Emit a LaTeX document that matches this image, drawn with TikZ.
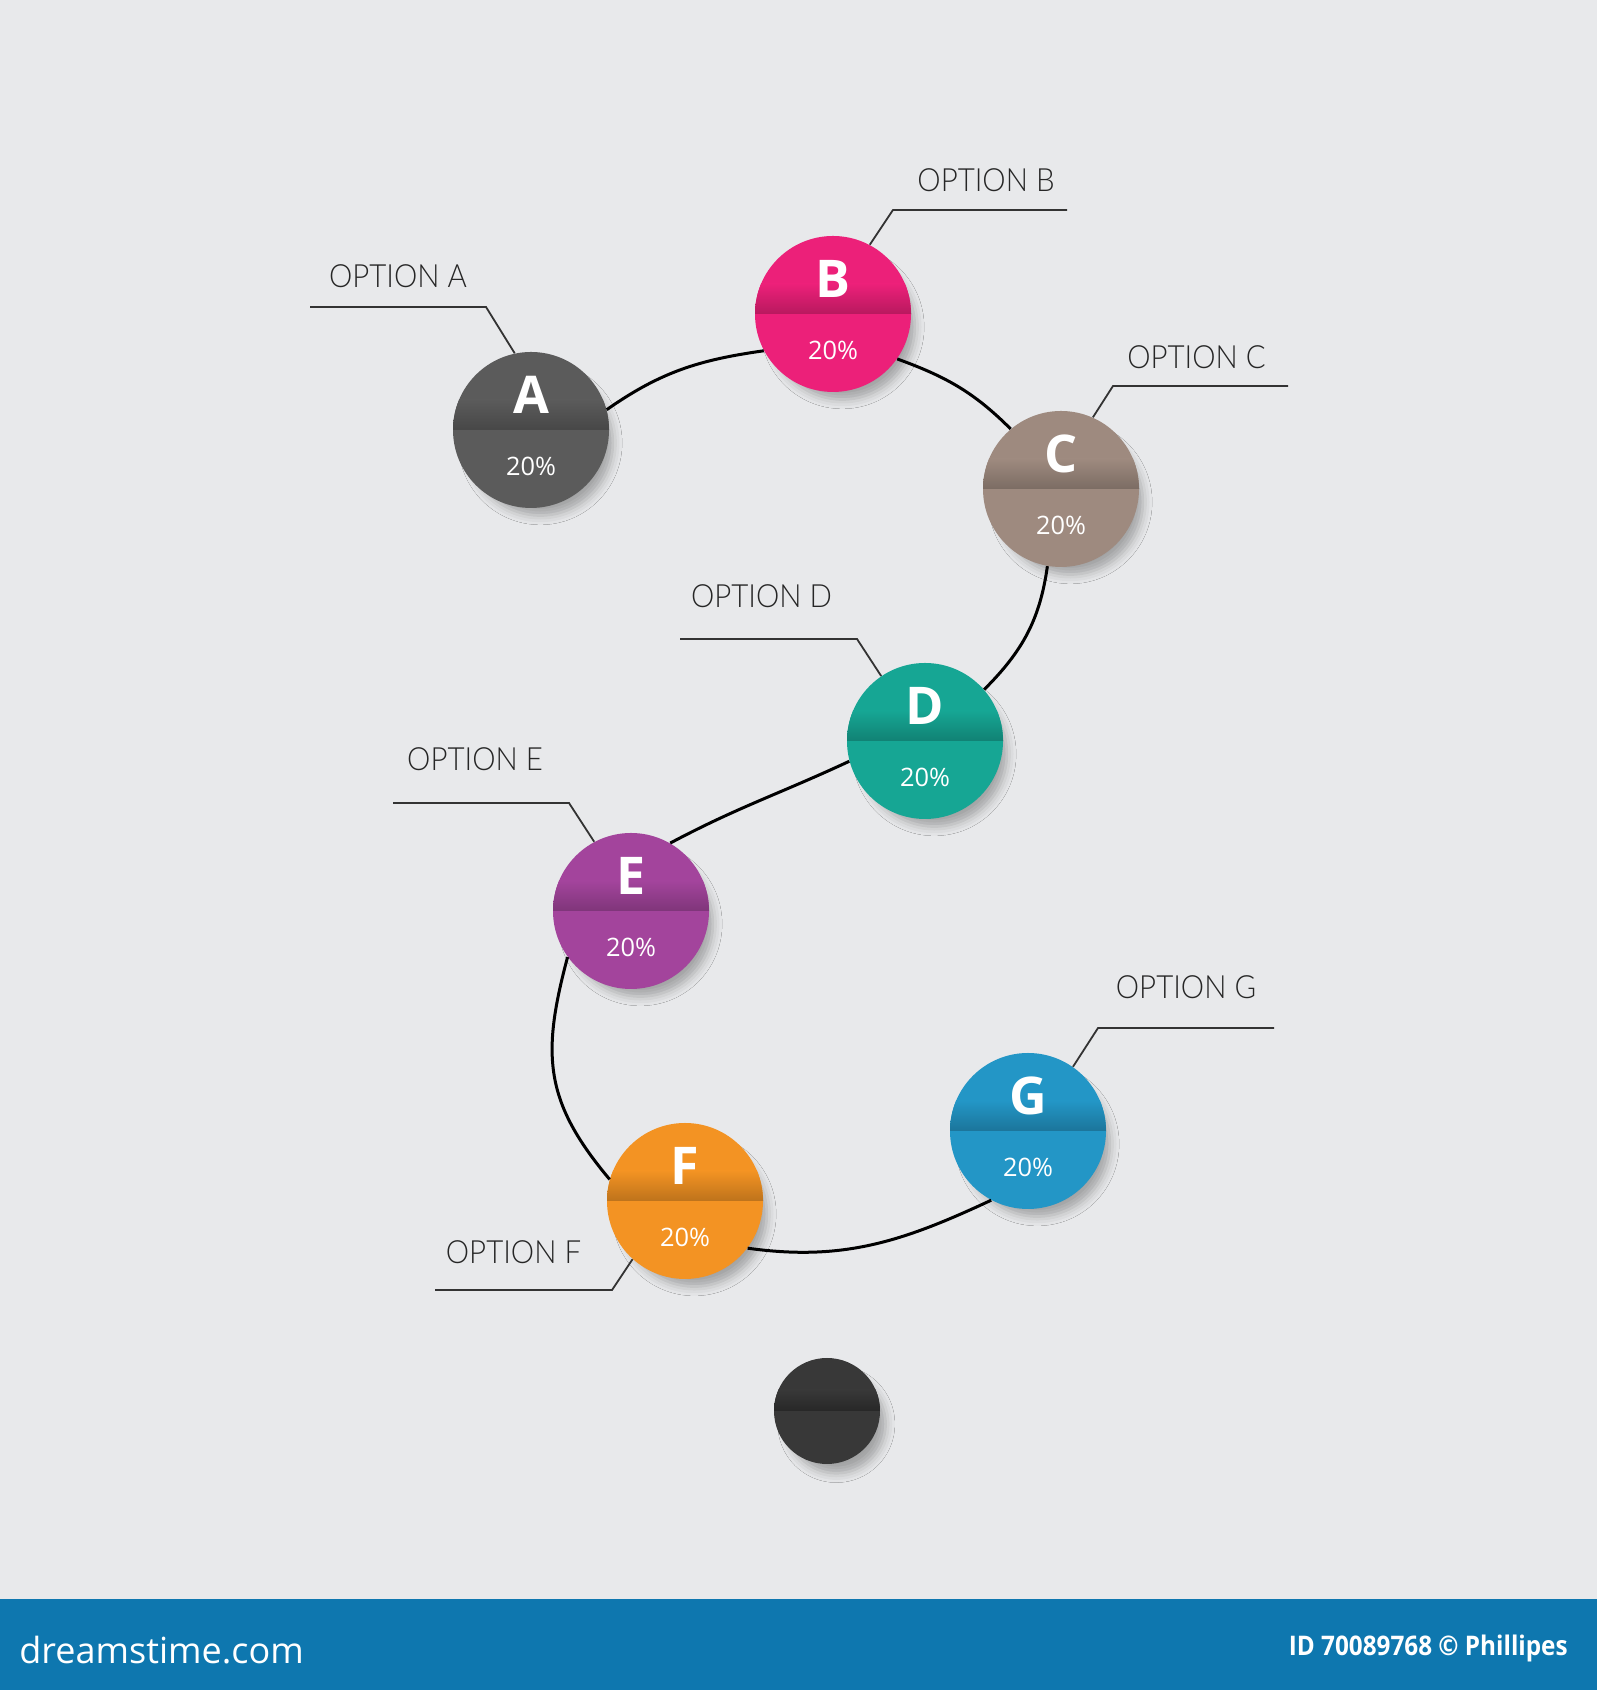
\documentclass[tikz,border=0pt]{standalone}
\usepackage{fontspec}
\setmainfont{Open Sans}
\newfontfamily\optfont{Lato}[UprightFont=* Light]
\usetikzlibrary{calc,shadows.blur}
\definecolor{bgc}{HTML}{E8E9EB}
\definecolor{barc}{HTML}{0E77AF}
\definecolor{cA}{HTML}{5B5B5B}
\definecolor{cB}{HTML}{EC2079}
\definecolor{cC}{HTML}{9E8A7F}
\definecolor{cD}{HTML}{16A694}
\definecolor{cE}{HTML}{A3449C}
\definecolor{cF}{HTML}{F39323}
\definecolor{cG}{HTML}{2396C6}
\definecolor{cK}{HTML}{383838}
\tikzset{
  ballnode/.style={circle, inner sep=0pt, minimum size=78pt,
    blur shadow={shadow xshift=5pt, shadow yshift=-7pt, shadow blur radius=5pt, shadow opacity=30, shadow scale=0.93}},
  smallball/.style={ballnode, minimum size=53pt},
  lettertext/.style={text=white, inner sep=0pt, font=\bfseries\fontsize{26}{28}\selectfont},
  pcttext/.style={text=white, inner sep=0pt, font=\fontsize{12.7}{14}\selectfont},
  conn/.style={draw=black, line width=1.5pt},
  leader/.style={draw=black!80, line width=0.9pt},
  optlabel/.style={anchor=center, inner sep=0pt, xscale=0.92, text=black!85, font=\optfont\fontsize{16}{19}\selectfont},
}
\newcommand\ball[5]{%
  \node[ballnode, fill=#4] (#1) at (#2,#3) {};
  \begin{scope}
    \clip (#2,#3) circle[radius=78];
    \shade[top color=#4, bottom color=#4!78!black] (#2-80,#3) rectangle (#2+80,#3+30);
  \end{scope}
  \node[lettertext] (#1l) at (#2,#3+35) {#5};
  \node[pcttext] (#1p) at (#2,#3-36) {20\%};
}
\begin{document}
\begin{tikzpicture}[x=0.5pt,y=0.5pt]
\useasboundingbox (0,0) rectangle (1597,1690);
\fill[bgc] (0,0) rectangle (1597,1690);
\fill[barc] (0,0) rectangle (1597,91);

\ball{A}{531}{1260}{cA}{A}
\ball{B}{833}{1376}{cB}{B}
\ball{C}{1061}{1201}{cC}{C}
\ball{D}{925}{949}{cD}{D}
\ball{E}{631}{779}{cE}{E}
\ball{F}{685}{489}{cF}{F}
\ball{G}{1028}{559}{cG}{G}

\node[smallball, fill=cK] (K) at (827,279) {};
\begin{scope}
  \clip (827,279) circle[radius=53];
  \shade[top color=cK, bottom color=cK!70!black] (740,279) rectangle (910,300);
\end{scope}

\draw[conn] (A.15) to[out=35,in=188] (B.208);
\draw[conn] (B.-35) to[out=-20,in=135] (C.130);
\draw[conn] (C.260) to[out=-98,in=45] (D.41);
\draw[conn] (D.195) to[out=205,in=28] (E.60);
\draw[conn] (E.216) to[out=255,in=130,looseness=1.15] (F.164);
\draw[conn] (F.-37) to[out=-8,in=205] (G.242);

\coordinate (a1) at (310,1383); \coordinate (a2) at (486,1383);
\draw[leader] (a1) -- (a2) -- (A.102);
\node[optlabel] (tA) at ($(a1)!0.5!(a2)+(0,31)$) {OPTION A};

\coordinate (b1) at (1067,1480); \coordinate (b2) at (893,1480);
\draw[leader] (b1) -- (b2) -- (B.62);
\node[optlabel] (tB) at ($(b1)!0.5!(b2)+(6,30)$) {OPTION B};

\coordinate (c1) at (1288,1304); \coordinate (c2) at (1113,1304);
\draw[leader] (c1) -- (c2) -- (C.66);
\node[optlabel] (tC) at ($(c1)!0.5!(c2)+(-4,29)$) {OPTION C};

\coordinate (d1) at (680,1051); \coordinate (d2) at (857,1051);
\draw[leader] (d1) -- (d2) -- (D.124);
\node[optlabel] (tD) at ($(d1)!0.5!(d2)+(-7,43)$) {OPTION D};

\coordinate (e1) at (393,887); \coordinate (e2) at (569,887);
\draw[leader] (e1) -- (e2) -- (E.118);
\node[optlabel] (tE) at ($(e1)!0.5!(e2)+(-6,44)$) {OPTION E};

\coordinate (f1) at (435,400); \coordinate (f2) at (612,400);
\draw[leader] (f1) -- (f2) -- (F.228);
\node[optlabel] (tF) at ($(f1)!0.5!(f2)+(-10,38)$) {OPTION F};

\coordinate (g1) at (1274,662); \coordinate (g2) at (1098,662);
\draw[leader] (g1) -- (g2) -- (G.55);
\node[optlabel] (tG) at ($(g1)!0.5!(g2)+(0,41)$) {OPTION G};

\node[anchor=west, text=white, inner sep=0pt, font=\fontsize{18}{20}\selectfont] (ds) at (19,40) {dreamstime.com};
\node[anchor=east, text=white, inner sep=0pt, xscale=0.9, font=\bfseries\fontsize{13.5}{15}\selectfont] (idt) at (1568,42) {ID 70089768 © Phillipes};
\end{tikzpicture}
\end{document}
